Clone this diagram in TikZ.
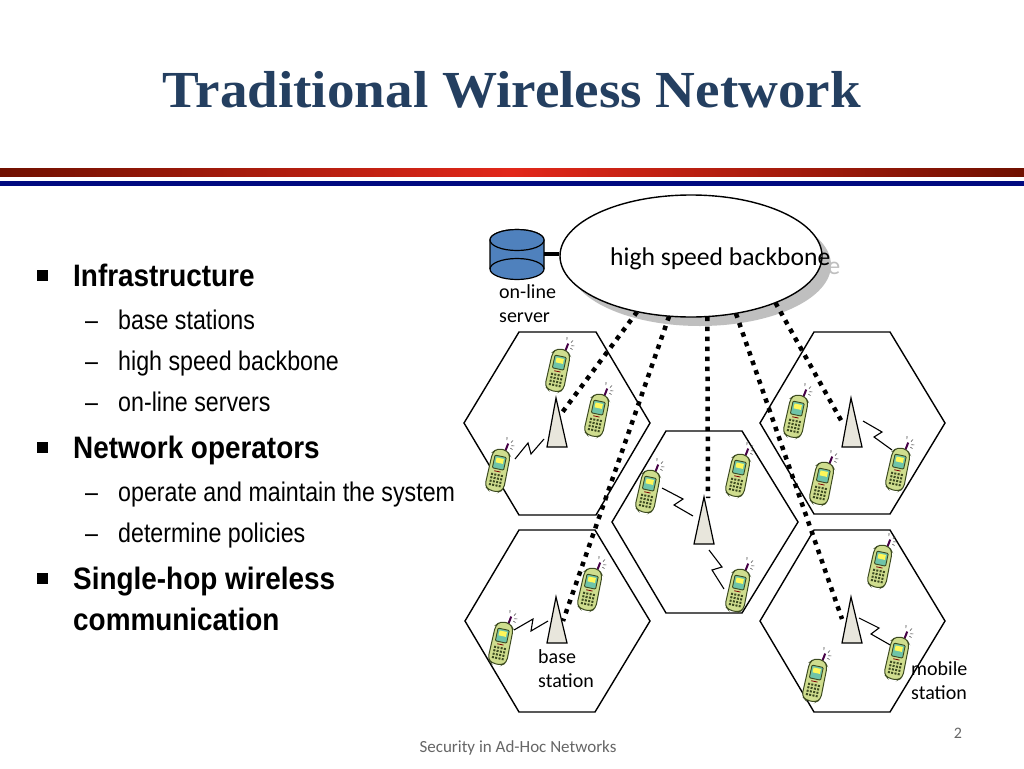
\documentclass[tikz,border=0pt]{standalone}
\usepackage{fontspec}
\setmainfont{Liberation Sans}
\newfontfamily\narrowb[FakeStretch=0.90]{Liberation Sans Bold}
\newfontfamily\narrowf[FakeStretch=0.86]{Liberation Sans}
\newfontfamily\titlef[FakeStretch=1.06]{Liberation Serif}
\newfontfamily\labelf{Carlito}
\usetikzlibrary{shapes.geometric}
\definecolor{titleblue}{HTML}{243F60}
\definecolor{cylblue}{HTML}{4F81BD}
\definecolor{towerfill}{HTML}{E8E6DC}
\definecolor{phonegreen}{HTML}{CFDD8E}
\definecolor{phonedark}{HTML}{3C4A20}
\definecolor{screenc}{HTML}{6FC4A8}
\definecolor{barend}{HTML}{701000}
\definecolor{barmid}{HTML}{E2281A}
\definecolor{barblue}{HTML}{000A80}
\tikzset{
  x=1pt,y=-1pt,
  hexcell/.style={draw=black,line width=1.4pt,line join=miter},
  linkdots/.style={line width=4.5pt,draw=black,dash pattern=on 4.5pt off 5.5pt},
  zig/.style={draw=black,line width=1.1pt},
  towerbox/.style={draw=black,line width=1.2pt,fill=towerfill},
  lbl/.style={font=\labelf\fontsize{20}{24}\selectfont,align=left,inner sep=0pt,anchor=north west,text=black},
  head/.style={font=\narrowb\fontsize{31}{41}\selectfont,anchor=base west,inner sep=0pt,align=left},
  sub/.style={font=\narrowf\fontsize{27}{41}\selectfont,anchor=base west,inner sep=0pt},
  dashm/.style={font=\narrowf\fontsize{27}{41}\selectfont,anchor=base west,inner sep=0pt},
  bul/.style={fill=black,minimum size=10.5pt,inner sep=0pt,draw=none},
  phone/.pic={
    \begin{scope}[rotate=-12]
      \draw[line width=2pt,draw=violet!55!black] (3,-19) -- (4.5,-28);
      \draw[line width=.6pt,draw=black!70] (2,-34) -- (2.5,-31) (8.5,-32) -- (7,-29.5) (11,-27) -- (8,-26.5) (10,-23) -- (7.5,-24);
      \draw[fill=phonegreen,draw=phonedark,line width=1pt,rounded corners=4pt] (-9,-16) -- (-5,-21) -- (5,-21) -- (9,-16) -- (9.5,18) -- (5,21.5) -- (-5,21.5) -- (-9.5,18) -- cycle;
      \draw[fill=screenc,draw=phonedark,line width=.9pt,rounded corners=1pt] (-6,-14) rectangle (5.5,-1);
      \fill[yellow!65!white] (-4,-12) rectangle (3.5,-7);
      \draw[draw=red!50!black,line width=.8pt] (-3.5,1.5) -- (3,1.5);
      \foreach \kx in {-5,-1.7,1.7,5}{\foreach \ky in {5,8.5,12,15.5}{
        \fill[phonedark] (\kx-1,\ky-1) rectangle (\kx+1,\ky+1);}}
    \end{scope}
  }
}
\newcommand{\phoneat}[2]{\path (#1,#2) pic {phone};}
\begin{document}
\begin{tikzpicture}
\useasboundingbox (0,0) rectangle (1024,768);
\fill[white] (0,0) rectangle (1024,768);
% title
\node[font=\titlef\bfseries\fontsize{52}{60}\selectfont,text=titleblue,inner sep=0pt] (title) at (512,90) {Traditional Wireless Network};
% header rules
\shade[left color=barend,right color=barmid] (0,168) rectangle (512,176.5);
\shade[right color=barend,left color=barmid] (512,168) rectangle (1024,176.5);
\fill[barblue] (0,181) rectangle (1024,186);
% bullets
\node[bul] (b1) at (42.5,275.5) {};
\node[bul] (b2) at (42.5,447.5) {};
\node[bul] (b3) at (42.5,578.5) {};
\node[head] (h1) at (73,286) {Infrastructure};
\node[head] (h2) at (73,458) {Network operators};
\node[head] (h3) at (73,589) {Single-hop wireless};
\node[head] (h3b) at (73,630) {communication};
\foreach \nm/\yy/\tx in {s1/329/base stations,s2/370/high speed backbone,s3/411/on-line servers,s4/501/operate and maintain the system,s5/542/determine policies}{
  \node[dashm] (d\nm) at (85,\yy) {–};
  \node[sub] (\nm) at (118,\yy) {\tx};
}
% hexagons
\draw[hexcell] (464,423) -- (519,332) -- (596,332) -- (650,423) -- (596,515) -- (519,515) -- cycle;
\draw[hexcell] (465,621) -- (519,530) -- (595,530) -- (650,621) -- (595,712) -- (519,712) -- cycle;
\draw[hexcell] (612,522) -- (666,431) -- (742,431) -- (798,522) -- (742,613) -- (666,613) -- cycle;
\draw[hexcell] (760,423) -- (814,332) -- (890,332) -- (945,423) -- (890,514) -- (814,514) -- cycle;
\draw[hexcell] (760,621) -- (814,530) -- (890,530) -- (945,621) -- (890,712) -- (814,712) -- cycle;
% towers
\draw[towerbox] (556,398) -- (547,447) -- (567,447) -- cycle;
\draw[towerbox] (556,597) -- (547,643) -- (567,643) -- cycle;
\draw[towerbox] (704,497) -- (694,544) -- (714,544) -- cycle;
\draw[towerbox] (851,398) -- (842,447) -- (862,447) -- cycle;
\draw[towerbox] (851,597) -- (842,643) -- (862,643) -- cycle;
% radio links
\draw[zig] (515,459) -- (528,443) -- (531,454) -- (544,439);
\draw[zig] (514,630) -- (533,619) -- (531,631) -- (548,621);
\draw[zig] (662,488) -- (683,499) -- (674,505) -- (693,516);
\draw[zig] (709,550) -- (722,567) -- (712,570) -- (724,589);
\draw[zig] (863,421) -- (882,432) -- (874,437) -- (892,450);
\draw[zig] (859,618) -- (879,628) -- (871,634) -- (892,646);
% shadow
\fill[black!25] (700,265) ellipse [x radius=131,y radius=61];
% backbone placeholder for anchors
\node[ellipse,minimum width=262pt,minimum height=122pt,inner sep=0pt] (backbone) at (691,256) {};
\coordinate (t1) at (561,414);
\coordinate (t2) at (563,621);
\coordinate (t3) at (708,498);
\coordinate (t4) at (842,619);
\coordinate (t5) at (842,422);
\draw[linkdots] (backbone.-134) -- (t1);
\draw[linkdots] (backbone.-110) -- (t2);
\draw[linkdots] (backbone.-75) -- (t3);
\draw[linkdots] (backbone.-52) -- (t4);
\draw[linkdots] (backbone.-29) -- (t5);
% phones
\phoneat{558}{370}\phoneat{597}{415}\phoneat{498}{470}
\phoneat{648}{491}\phoneat{738}{475}\phoneat{738}{590}
\phoneat{796}{416}\phoneat{822}{483}\phoneat{898}{469}
\phoneat{590}{589}\phoneat{501}{643}
\phoneat{880}{566}\phoneat{897}{658}\phoneat{815}{680}
% cylinder (y axis points down, so arc angles are mirrored)
\draw[line width=1.2pt,fill=cylblue] (490,240) -- (490,269) arc[start angle=180,end angle=0,x radius=27,y radius=10.5] -- (544,240) arc[start angle=0,end angle=-180,x radius=27,y radius=10.5] -- cycle;
\draw[line width=1.2pt,fill=cylblue] (517,240) ellipse [x radius=27,y radius=10.5];
\draw[line width=1.2pt] (490,269) arc[start angle=180,end angle=360,x radius=27,y radius=10.5];
% ghost shadow letter
\node[font=\labelf\fontsize{25.5}{28}\selectfont,text=black!25,inner sep=0pt] (ghost) at (834,268) {e};
% backbone
\node[ellipse,draw=black,line width=1.4pt,fill=white,minimum width=262pt,minimum height=122pt,inner sep=0pt] (backbone2) at (691,256) {};
\node[font=\labelf\fontsize{25.6}{28}\selectfont,inner sep=0pt,anchor=west] (bbl) at (610,259) {high speed backbone};
\coordinate (srv) at (544,254);
\draw[line width=3.5pt] (srv) -- (backbone2.west |- srv);
% labels
\node[lbl] (l1) at (499,284) {on-line\\server};
\node[lbl] (l2) at (538,649) {base\\station};
\node[lbl] (l3) at (911,661) {mobile\\station};
% footer
\node[font=\labelf\fontsize{17}{20}\selectfont,text=black!60,inner sep=0pt] (foot) at (518,748) {Security in Ad-Hoc Networks};
\node[font=\labelf\fontsize{16}{20}\selectfont,text=black!60,inner sep=0pt] (num) at (958,733) {2};
\end{tikzpicture}
\end{document}
